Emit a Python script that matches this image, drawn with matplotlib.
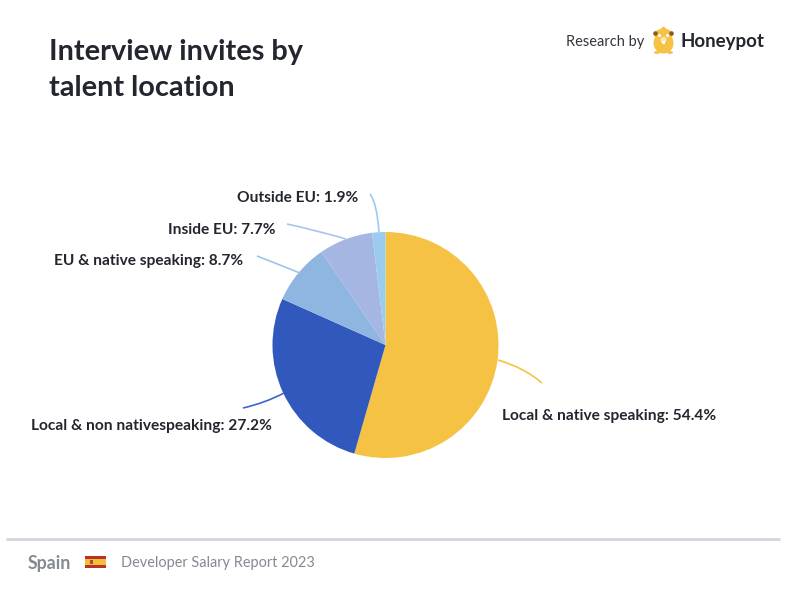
import matplotlib
matplotlib.use("Agg")
import matplotlib.pyplot as plt
from matplotlib.patches import Circle, Ellipse, PathPatch, Rectangle
from matplotlib.path import Path

plt.rcParams['font.family'] = ['Lato', 'DejaVu Sans']

# DATA
labels = ["Local & native speaking", "Local & non nativespeaking", "EU & native speaking",
          "Inside EU", "Outside EU"]
values = [54.4, 27.2, 8.7, 7.7, 1.9]
colors = ["#F6C244", "#3058BD", "#8FB6E0", "#A5B6E2", "#9CCBF0"]
line_colors = ["#F6C244", "#3A66CC", "#9CC4EC", "#A9C4EC", "#9CCBF0"]

W, H = 796, 597
DARK = "#23262F"
GREY = "#858993"

fig = plt.figure(figsize=(W / 100, H / 100), dpi=100, facecolor="white")
ax = fig.add_axes([0, 0, 1, 1])
ax.set_xlim(0, W)
ax.set_ylim(0, H)
ax.set_aspect("equal")
ax.axis("off")


# reference is measured from the top left
def py(y):
    return H - y


def txt(x, y, s, **kw):
    kw.setdefault("va", "center")
    kw.setdefault("color", DARK)
    return ax.text(x, py(y), s, **kw)


# PIE
ax.pie(values, colors=colors, startangle=90, counterclock=False,
       center=(385.5, py(345)), radius=113, frame=True)
ax.set_xlim(0, W)
ax.set_ylim(0, H)
ax.axis("off")

# leader lines, start / control / end
leaders = [
    ((498, 360), (525, 368), (542, 383)),
    ((284, 393), (265, 403), (243, 408)),
    ((300, 273), (275, 263), (257, 256)),
    ((346, 239), (315, 230), (287, 224)),
    ((379, 232), (377, 203), (370, 194)),
]
for (p0, p1, p2), c in zip(leaders, line_colors):
    path = Path([(p0[0], py(p0[1])), (p1[0], py(p1[1])), (p2[0], py(p2[1]))],
                [Path.MOVETO, Path.CURVE3, Path.CURVE3])
    ax.add_patch(PathPatch(path, fc="none", ec=c, lw=1.2, zorder=1))

# LABELS
label_pos = [(502, 416, "left"), (272, 426, "right"), (243, 261, "right"),
             (275, 230, "right"), (358, 198, "right")]
for (x, y, ha), name, v in zip(label_pos, labels, values):
    txt(x, y, f"{name}: {v}%", ha=ha, fontsize=11.15, fontweight="bold")

# TITLE
txt(49, 52, "Interview invites by", fontsize=20.75, fontweight="bold")
txt(49, 88, "talent location", fontsize=20.75, fontweight="bold")

# RESEARCH BY + LOGO
txt(566, 42, "Research by", fontsize=10.55, color="#33363E")
txt(680, 42, "Honeypot", fontsize=13.5, fontweight="bold")
bear = "#F6C244"
ax.add_patch(Ellipse((663.5, py(43)), 20, 21, fc=bear, ec="none"))
ax.add_patch(Circle((663.5, py(29)), 2.2, fc=bear, ec="none"))
ax.add_patch(Ellipse((663.5, py(35)), 18, 13, fc=bear, ec="none"))
ax.add_patch(Circle((655.5, py(33.5)), 2.3, fc="#8A5A1E", ec="none"))
ax.add_patch(Circle((671.5, py(33.5)), 2.3, fc="#8A5A1E", ec="none"))
ax.add_patch(Circle((659.5, py(35.5)), 1.6, fc="white", ec="none"))
ax.add_patch(Circle((667.5, py(35.5)), 1.6, fc="white", ec="none"))
ax.add_patch(Ellipse((663.5, py(40)), 6, 6, fc="#FBE6B0", ec="none"))
ax.add_patch(Rectangle((662, py(44)), 3, 3, fc="white", ec="none"))
ax.add_patch(Ellipse((657, py(52.5)), 6, 3, fc=bear, ec="none"))
ax.add_patch(Ellipse((670, py(52.5)), 6, 3, fc=bear, ec="none"))

# FOOTER
ax.plot([6, 780], [py(538.5), py(538.5)], color="#D3D5DF", lw=2, solid_capstyle="butt")
txt(28, 563, "Spain", fontsize=12.8, fontweight="bold", color=GREY)
ax.add_patch(Rectangle((85, py(568)), 21, 12, fc="#B8322A", ec="none"))
ax.add_patch(Rectangle((85, py(565)), 21, 6, fc="#F3BE3A", ec="none"))
ax.add_patch(Rectangle((90, py(564)), 3, 4, fc="#A8502A", ec="none"))
txt(121, 563, "Developer Salary Report 2023", fontsize=10.45, color=GREY)

fig.savefig("out.png", dpi=100)
